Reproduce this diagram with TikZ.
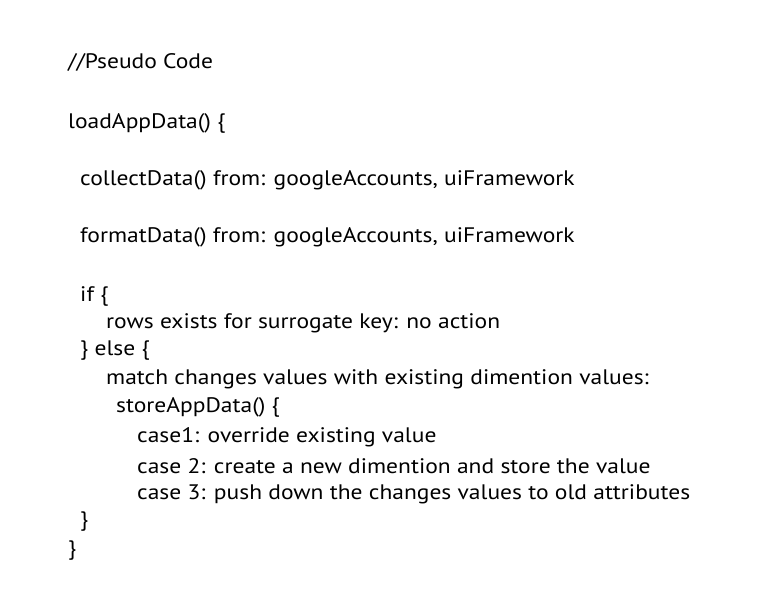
\documentclass[tikz,border=0pt]{standalone}
\usepackage{fontspec}
\setmainfont[FakeStretch=1.12]{PT Sans}
\begin{document}
\begin{tikzpicture}[x=1pt,y=-1pt,
  codeline/.style={anchor=west,inner sep=0pt,font=\fontsize{21}{24}\selectfont}]
\useasboundingbox[fill=white] (0,0) rectangle (762,612);
\node[codeline] (l1) at (68,62) {//Pseudo Code};
\node[codeline] (l2) at (68,123) {loadAppData() \{};
\node[codeline] (l3) at (80,180) {collectData() from: googleAccounts, uiFramework};
\node[codeline] (l4) at (80,237) {formatData() from: googleAccounts, uiFramework};
\node[codeline] (l5) at (80,296) {if \{};
\node[codeline] (l6) at (106,323) {rows exists for surrogate key: no action};
\node[codeline] (l7) at (80,351) {\} else \{};
\node[codeline] (l8) at (106,379) {match changes values with existing dimention values:};
\node[codeline] (l9) at (116,407) {storeAppData() \{};
\node[codeline] (l10) at (137,437) {case1: override existing value};
\node[codeline] (l11) at (137,466) {case 2: create a new dimention and store the value};
\node[codeline] (l12) at (137,494) {case 3: push down the changes values to old attributes};
\node[codeline] (l13) at (80,522) {\}};
\node[codeline] (l14) at (68,551) {\}};
\end{tikzpicture}
\end{document}
